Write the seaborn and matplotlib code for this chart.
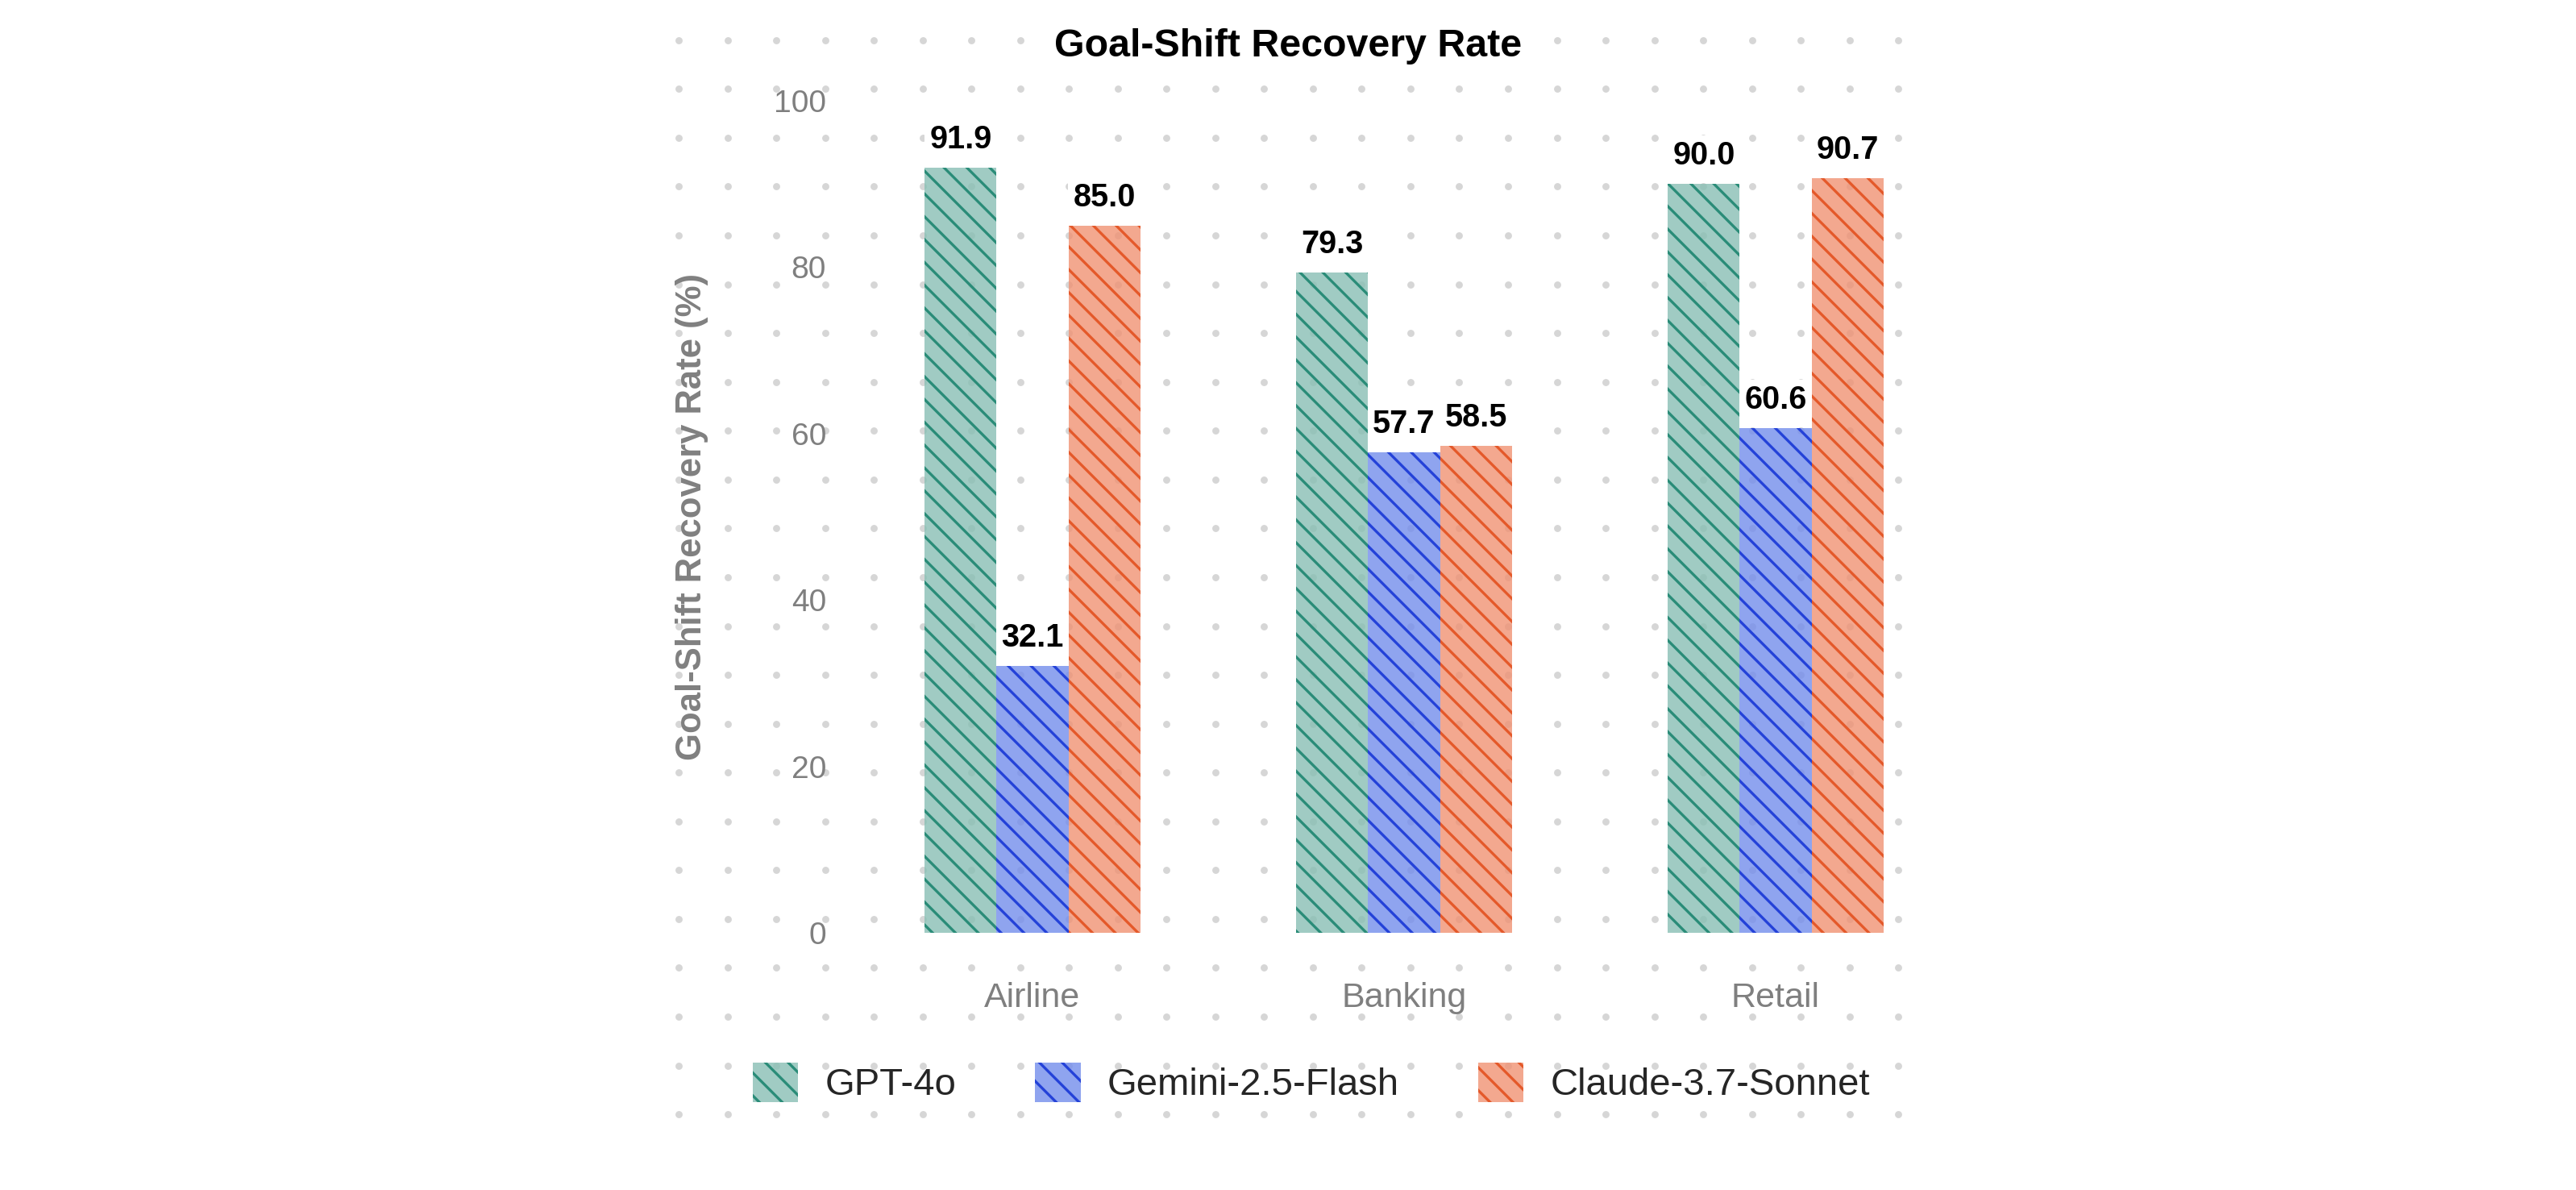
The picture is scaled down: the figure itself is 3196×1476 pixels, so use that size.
import numpy as np
import pandas as pd
import matplotlib.pyplot as plt
import seaborn as sns
from matplotlib.patches import Patch

# Data
domains = ["Airline", "Banking", "Retail"]
models = ["GPT-4o", "Gemini-2.5-Flash", "Claude-3.7-Sonnet"]
gpt4o = [91.9, 79.3, 90.0]
gemini = [32.1, 57.7, 60.6]
claude = [85.0, 58.5, 90.7]
yticks = [0, 20, 40, 60, 80, 100]

# fill (semi transparent) and hatch colours per model
fill_colors = {
    "GPT-4o": (0.533, 0.749, 0.706, 0.8),
    "Gemini-2.5-Flash": (0.451, 0.553, 0.925, 0.8),
    "Claude-3.7-Sonnet": (0.941, 0.573, 0.451, 0.8),
}
hatch_colors = {
    "GPT-4o": "#2a8c78",
    "Gemini-2.5-Flash": "#2442d8",
    "Claude-3.7-Sonnet": "#e4592a",
}

df = pd.DataFrame({
    "domain": domains * 3,
    "model": [m for m in models for _ in domains],
    "rate": gpt4o + gemini + claude,
})

# dpi 170 makes the "\\\\" hatch spacing ~28 px, as in the reference
DPI = 170
W, H = 3196, 1476

sns.set_theme(style="white")
plt.rcParams["font.family"] = ["Liberation Sans", "DejaVu Sans"]
plt.rcParams["hatch.linewidth"] = 1.4

fig = plt.figure(figsize=(W / DPI, (H + 0.2) / DPI), dpi=DPI)

# dotted backdrop behind the whole plot
bg = fig.add_axes([0, 0, 1, 1], zorder=0)
bg.set_xlim(0, W)
bg.set_ylim(H, 0)
bg.axis("off")
gx, gy = np.meshgrid(842 + 60.53 * np.arange(26), 50 + 60.55 * np.arange(23))
bg.scatter(gx.ravel(), gy.ravel(), s=14, color="#d6d6d6", linewidths=0)

# main axes
ax = fig.add_axes([1040 / W, 1 - 1188 / H, 1320 / W, 1094 / H], zorder=1)
ax.set_facecolor("none")

sns.barplot(
    data=df, x="domain", y="rate", hue="model",
    order=domains, hue_order=models,
    palette={m: fill_colors[m][:3] for m in models},
    width=0.58, errorbar=None, legend=False, ax=ax,
)

# hatched, semi transparent bars + value labels
for cont, m in zip(ax.containers, models):
    for bar in cont:
        bar.set_facecolor(fill_colors[m])
        bar.set_edgecolor(hatch_colors[m])
        bar.set_linewidth(0)
        bar.set_hatch("\\\\")
    ax.bar_label(
        cont, fmt="%.1f", padding=6.9, fontsize=16.8, fontweight="bold",
        color="black",
        bbox=dict(boxstyle="square,pad=0.15", fc="white", ec="none"),
    )

ax.set_xlim(-0.5228, 2.3406)
ax.set_ylim(-3, 103)
ax.set_yticks(yticks)
ax.set_xlabel("")
ax.set_ylabel("Goal-Shift Recovery Rate (%)", fontsize=18.5,
              fontweight="bold", color="#808080")
ax.yaxis.set_label_coords(-0.122, 0.5)
ax.tick_params(axis="y", length=0, labelsize=16.5, labelcolor="#7f7f7f", pad=6.4)
ax.tick_params(axis="x", length=0, labelsize=18.2, labelcolor="#7f7f7f", pad=12.5)
ax.grid(False)
for s in ax.spines.values():
    s.set_visible(False)

# title
fig.text(0.5, 1 - 70 / H, "Goal-Shift Recovery Rate", ha="center", va="baseline",
         fontsize=20.5, fontweight="bold", color="black", zorder=2,
         bbox=dict(boxstyle="square,pad=0.1", fc="white", ec="none"))

# legend
handles = [Patch(facecolor=fill_colors[m], edgecolor=hatch_colors[m],
                 hatch="\\\\", linewidth=0) for m in models]
fig.legend(handles, models, loc="center", bbox_to_anchor=(1627 / W, 1 - 1343 / H),
           ncol=3, frameon=False, fontsize=20, handlelength=1.19,
           handleheight=1.21, handletextpad=0.70, columnspacing=2.08,
           borderpad=0, borderaxespad=0)

fig.savefig("out.png", dpi=DPI)
